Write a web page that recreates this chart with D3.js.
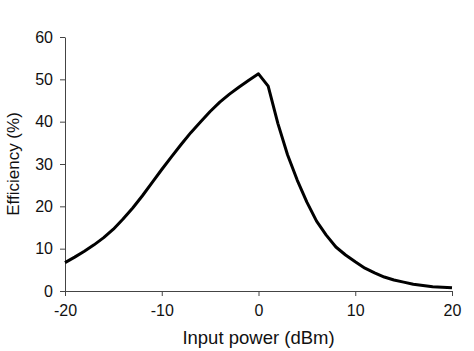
<!DOCTYPE html>
<html>
<head>
<meta charset="utf-8">
<script src="https://cdn.jsdelivr.net/npm/d3@7"></script>
<style>
    body { margin: 0; background: #fff; }
    svg text { font-family: Arial, "Liberation Sans", Helvetica, sans-serif; fill: #111; }
</style>
</head>
<body>
<div id="chart"></div>
<script>
// Input power (dBm) and efficiency (%)
const inputPower = [-20, -19, -18, -17, -16, -15, -14, -13, -12, -11, -10,
    -9, -8, -7, -6, -5, -4, -3, -2, -1, 0,
    1, 2, 3, 4, 5, 6, 7, 8, 9, 10,
    11, 12, 13, 14, 15, 16, 17, 18, 19, 20];
const efficiency = [6.7, 8.0, 9.4, 10.9, 12.6, 14.6, 17.0, 19.6, 22.5, 25.6, 28.7,
    31.7, 34.6, 37.4, 39.9, 42.4, 44.6, 46.5, 48.2, 49.8, 51.3,
    48.4, 39.6, 32.2, 26.2, 21.0, 16.5, 13.2, 10.4, 8.5, 6.9,
    5.4, 4.3, 3.3, 2.6, 2.1, 1.6, 1.3, 1.0, 0.9, 0.75];
const xTicks = [-20, -10, 0, 10, 20];
const yTicks = [0, 10, 20, 30, 40, 50, 60];

let margin = {top: 37, right: 22, bottom: 60, left: 65};
let width = 474 - margin.left - margin.right;
let height = 351 - margin.top - margin.bottom;

let svg = d3.select("#chart")
    .append("svg")
    .attr("width", 474)
    .attr("height", 351)
    .append("g")
    .attr("transform", "translate(" + margin.left + "," + margin.top + ")");

let x = d3.scaleLinear().domain([-20, 20]).range([0, width]);
let y = d3.scaleLinear().domain([0, 60]).range([height, 0]);

// X axis (plain hyphen for negatives, as in the original)
let xAxis = svg.append("g")
    .attr("transform", "translate(0," + height + ")")
    .call(d3.axisBottom(x).tickValues(xTicks).tickFormat(d => String(d))
        .tickSize(5).tickSizeOuter(0).tickPadding(9));

// Y axis
let yAxis = svg.append("g")
    .call(d3.axisLeft(y).tickValues(yTicks).tickFormat(d => String(d))
        .tickSize(5).tickSizeOuter(0).tickPadding(7));

[xAxis, yAxis].forEach(function (g) {
    g.selectAll("path, line").attr("stroke", "#444").attr("stroke-width", 1);
    g.selectAll("text").style("font-size", "16px").attr("fill", "#111");
});

// Axis labels
svg.append("text")
    .attr("x", width / 2)
    .attr("y", height + 53)
    .attr("text-anchor", "middle")
    .style("font-size", "18.5px")
    .text("Input power (dBm)");

svg.append("text")
    .attr("transform", "rotate(-90)")
    .attr("x", -height / 2)
    .attr("y", -46)
    .attr("text-anchor", "middle")
    .style("font-size", "17px")
    .text("Efficiency (%)");

// Efficiency curve
let points = inputPower.map((p, i) => [p, efficiency[i]]);
let line = d3.line()
    .x(d => x(d[0]))
    .y(d => y(d[1]));

svg.append("path")
    .datum(points)
    .attr("fill", "none")
    .attr("stroke", "#000")
    .attr("stroke-width", 3)
    .attr("stroke-linejoin", "round")
    .attr("d", line);
</script>
</body>
</html>
